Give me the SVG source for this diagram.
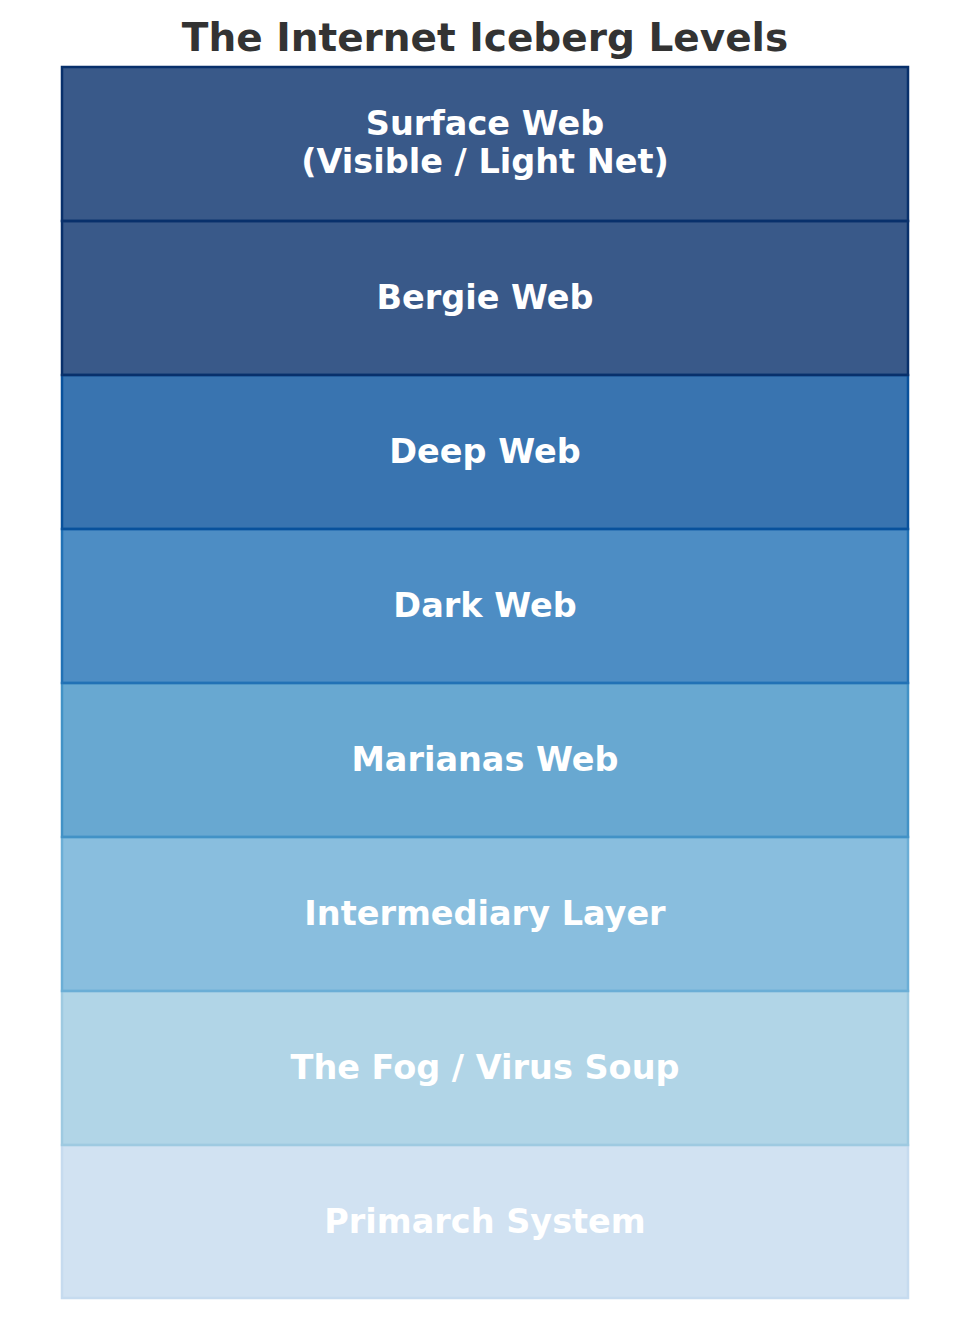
<svg xmlns="http://www.w3.org/2000/svg" width="969" height="1318" viewBox="0 0 969 1318">
<style>
.t{font-family:"DejaVu Sans",sans-serif;font-weight:bold;text-anchor:middle}
.title{font-size:39px;fill:#333333}
.lbl{font-size:33.5px;fill:#ffffff}
.band rect{stroke-width:2.5;fill-opacity:0.8;stroke-opacity:1}
</style>
<rect width="969" height="1318" fill="#ffffff"/>
<text class="t title" x="485" y="51">The Internet Iceberg Levels</text>
<g id="primarch" class="band"><rect x="62" y="1145" width="846" height="153" fill="#c6dbef" stroke="#c6dbef"/><text class="t lbl" x="485" y="1233">Primarch System</text></g>
<g id="fog" class="band"><rect x="62" y="991" width="846" height="154" fill="#9ecae1" stroke="#9ecae1"/><text class="t lbl" x="485" y="1079">The Fog / Virus Soup</text></g>
<g id="intermediary" class="band"><rect x="62" y="837" width="846" height="154" fill="#6baed6" stroke="#6baed6"/><text class="t lbl" x="485" y="925">Intermediary Layer</text></g>
<g id="marianas" class="band"><rect x="62" y="683" width="846" height="154" fill="#4292c6" stroke="#4292c6"/><text class="t lbl" x="485" y="771">Marianas Web</text></g>
<g id="dark" class="band"><rect x="62" y="529" width="846" height="154" fill="#2171b5" stroke="#2171b5"/><text class="t lbl" x="485" y="617">Dark Web</text></g>
<g id="deep" class="band"><rect x="62" y="375" width="846" height="154" fill="#08519c" stroke="#08519c"/><text class="t lbl" x="485" y="463">Deep Web</text></g>
<g id="bergie" class="band"><rect x="62" y="221" width="846" height="154" fill="#08306b" stroke="#08306b"/><text class="t lbl" x="485" y="309">Bergie Web</text></g>
<g id="surface" class="band"><rect x="62" y="67" width="846" height="154" fill="#08306b" stroke="#08306b"/><text class="t lbl" x="485" y="135">Surface Web</text><text class="t lbl" x="485" y="173">(Visible / Light Net)</text></g>
<g id="connectors"/>
</svg>
